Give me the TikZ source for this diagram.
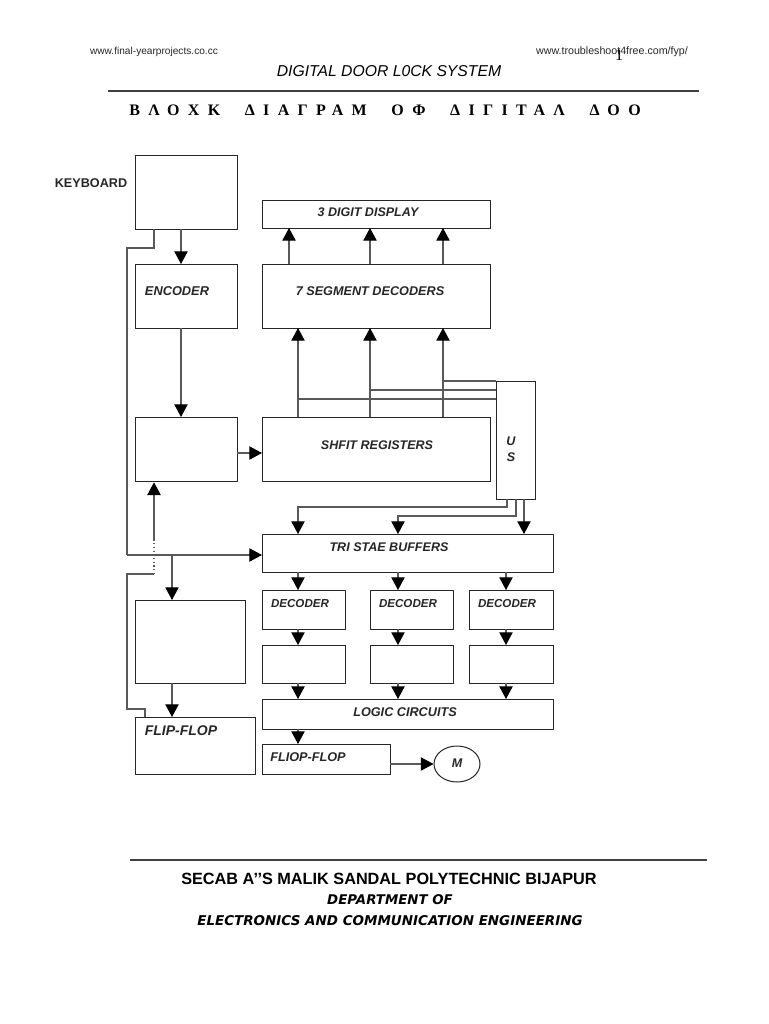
\documentclass[tikz,border=0pt]{standalone}
\usepackage{fontspec}
\setmainfont{Liberation Sans}
\newfontfamily\grk[LetterSpace=52,WordSpace=2.0]{Liberation Serif}
\newfontfamily\cmc{DejaVu Sans}
\usetikzlibrary{arrows.meta,shapes.geometric}
\definecolor{ln}{gray}{0.15}
\definecolor{wr}{gray}{0.35}
\tikzset{
  blk/.style={draw=ln,line width=0.75pt,rectangle,inner sep=0pt,outer sep=0pt,fill=white},
  wire/.style={draw=wr,line width=0.8pt},
  arr/.style={wire,-{Triangle[length=9.5pt,width=10pt,color=black]}},
  lab/.style={inner sep=0pt,font=\fontsize{9.4}{10}\selectfont\itshape\bfseries,text=black!85},
  hdr/.style={inner sep=0pt,text=black!85},
  rul/.style={draw=black!75,line width=0.8pt}
}
\newcommand\bx[5]{\node[blk,minimum width={(#4-#2)*0.75pt},minimum height={(#5-#3)*0.75pt}] (#1) at ({(#2+#4)/2},{(#3+#5)/2}) {};}
\begin{document}
\begin{tikzpicture}[x=0.75pt,y=-0.75pt]
\useasboundingbox (0,0) rectangle (768,1024);
% guide coordinates
\foreach \v in {127,145,154,172,181,289,298,370,398,443,506,507,516,524}{\coordinate (x\v) at (\v,0);}
\foreach \v in {248,381,390,399,453,507,516,555,574,709,764}{\coordinate (y\v) at (0,\v);}
% header
\node[hdr,font=\fontsize{7.6}{8}\selectfont] (url1) at (154,52) {www.final-yearprojects.co.cc};
\node[hdr,font=\fontsize{8}{8}\selectfont] (url2) at (612,52) {www.troubleshoot4free.com/fyp/};
\node[inner sep=0pt,font=\fontsize{12}{12}\selectfont\fontspec{Liberation Serif}] (pg) at (619,55) {1};
\node[inner sep=0pt,font=\fontsize{11.8}{13}\selectfont\itshape] (title) at (389,71) {DIGITAL DOOR L0CK SYSTEM};
\coordinate (r1a) at (108,91); \coordinate (r1b) at (699,91);
\draw[rul] (r1a) -- (r1b);
\node[inner sep=0pt,font=\fontsize{12}{13}\selectfont\grk\bfseries] (greek) at (385,110) {ΒΛΟΧΚ  ΔΙΑΓΡΑΜ  ΟΦ  ΔΙΓΙΤΑΛ  ΔΟΟ};
% blocks
\bx{kb}{135}{155}{237}{229}
\bx{disp}{262}{200}{490}{228}
\bx{enc}{135}{264}{237}{328}
\bx{seg}{262}{264}{490}{328}
\bx{latch}{135}{417}{237}{481}
\bx{shift}{262}{417}{490}{481}
\bx{us}{496}{381}{535}{499}
\bx{tri}{262}{534}{553}{572}
\bx{d1}{262}{590}{345}{629}
\bx{d2}{370}{590}{453}{629}
\bx{d3}{469}{590}{553}{629}
\bx{b1}{262}{645}{345}{683}
\bx{b2}{370}{645}{453}{683}
\bx{b3}{469}{645}{553}{683}
\bx{logic}{262}{699}{553}{729}
\bx{ff2}{262}{744}{390}{774}
\bx{big}{135}{600}{245}{683}
\bx{ff1}{135}{717}{255}{774}
\node[draw=ln,line width=0.75pt,ellipse,inner sep=0pt,minimum width=34.5pt,minimum height=27pt,fill=white] (m) at (457,764) {};
% labels
\node[lab,font=\fontsize{9.5}{10}\selectfont\bfseries] (lkb) at (91,183) {KEYBOARD};
\node[lab] (l3) at (368,212) {3 DIGIT DISPLAY};
\node[lab,font=\fontsize{9.6}{10}\selectfont\itshape\bfseries] (lenc) at (177,291) {ENCODER};
\node[lab,font=\fontsize{9.5}{10}\selectfont\itshape\bfseries] (lseg) at (370,291) {7 SEGMENT DECODERS};
\node[lab] (lsh) at (377,445) {SHFIT REGISTERS};
\node[lab] (lu) at (511,441) {U};
\node[lab] (ls) at (511,457) {S};
\node[lab] (ltri) at (389,547) {TRI STAE BUFFERS};
\node[lab,font=\fontsize{8.7}{10}\selectfont\itshape\bfseries] (ld1) at (300,603) {DECODER};
\node[lab,font=\fontsize{8.7}{10}\selectfont\itshape\bfseries] (ld2) at (408,603) {DECODER};
\node[lab,font=\fontsize{8.7}{10}\selectfont\itshape\bfseries] (ld3) at (507,603) {DECODER};
\node[lab,font=\fontsize{9.5}{10}\selectfont\itshape\bfseries] (llog) at (405,712) {LOGIC CIRCUITS};
\node[lab,font=\fontsize{9.5}{10}\selectfont\itshape\bfseries] (lf2) at (308,757) {FLIOP-FLOP};
\node[lab] (lm) at (457,763) {M};
\node[lab,font=\fontsize{10.5}{11}\selectfont\itshape\bfseries] (lf1) at (181,731) {FLIP-FLOP};
% arrows in left column
\draw[arr] (kb.south -| x181) -- (enc.north -| x181);
\draw[arr] (enc.south -| x181) -- (latch.north -| x181);
\draw[arr] (latch.east |- y453) -- (shift.west |- y453);
\draw[arr] (big.south -| x172) -- (ff1.north -| x172);
% feedback wires
\draw[wire] (kb.south -| x154) -- (x154 |- y248) -- (x127 |- y248) -- (x127 |- y555);
\draw[arr] (x127 |- y555) -- (tri.west |- y555);
\draw[arr] (x172 |- y555) -- (big.north -| x172);
\draw[wire] (x145 |- ff1.north) -- (x145 |- y709) -- (x127 |- y709) -- (x127 |- y574) -- (x154 |- y574);
\coordinate (dot1) at (154,540);
\draw[wire,dotted] (x154 |- y574) -- (dot1);
\draw[arr,shorten >=1pt] (dot1) -- (latch.south -| x154);
% shift registers to decoders
\draw[arr] (shift.north -| x298) -- (seg.south -| x298);
\draw[arr] (shift.north -| x370) -- (seg.south -| x370);
\draw[arr] (shift.north -| x443) -- (seg.south -| x443);
\draw[arr] (seg.north -| x289) -- (disp.south -| x289);
\draw[arr] (seg.north -| x370) -- (disp.south -| x370);
\draw[arr] (seg.north -| x443) -- (disp.south -| x443);
% wires into US
\draw[wire] (x298 |- y399) -- (us.west |- y399);
\draw[wire] (x370 |- y390) -- (us.west |- y390);
\draw[wire] (x443 |- y381) -- (us.north west);
% US to tri-state
\draw[arr] (us.south -| x507) -- (x507 |- y507) -- (x298 |- y507) -- (tri.north -| x298);
\draw[arr] (us.south -| x516) -- (x516 |- y516) -- (x398 |- y516) -- (tri.north -| x398);
\draw[arr] (us.south -| x524) -- (tri.north -| x524);
% columns
\draw[arr] (tri.south -| x298) -- (d1.north -| x298);
\draw[arr] (tri.south -| x398) -- (d2.north -| x398);
\draw[arr] (tri.south -| x506) -- (d3.north -| x506);
\draw[arr] (d1.south -| x298) -- (b1.north -| x298);
\draw[arr] (d2.south -| x398) -- (b2.north -| x398);
\draw[arr] (d3.south -| x506) -- (b3.north -| x506);
\draw[arr] (b1.south -| x298) -- (logic.north -| x298);
\draw[arr] (b2.south -| x398) -- (logic.north -| x398);
\draw[arr] (b3.south -| x506) -- (logic.north -| x506);
\draw[arr] (logic.south -| x298) -- (ff2.north -| x298);
\draw[arr] (ff2.east |- y764) -- (m.west);
% footer
\coordinate (r2a) at (130,860); \coordinate (r2b) at (707,860);
\draw[rul] (r2a) -- (r2b);
\node[inner sep=0pt,font=\fontsize{12.2}{13}\selectfont\bfseries] (f1) at (389,879) {SECAB A’’S MALIK SANDAL POLYTECHNIC BIJAPUR};
\node[inner sep=0pt,font=\fontsize{10}{11}\selectfont\cmc\bfseries\itshape] (f2) at (390,900) {DEPARTMENT OF};
\node[inner sep=0pt,font=\fontsize{10.1}{11}\selectfont\cmc\bfseries\itshape] (f3) at (390,921) {ELECTRONICS AND COMMUNICATION ENGINEERING};
\end{tikzpicture}
\end{document}
